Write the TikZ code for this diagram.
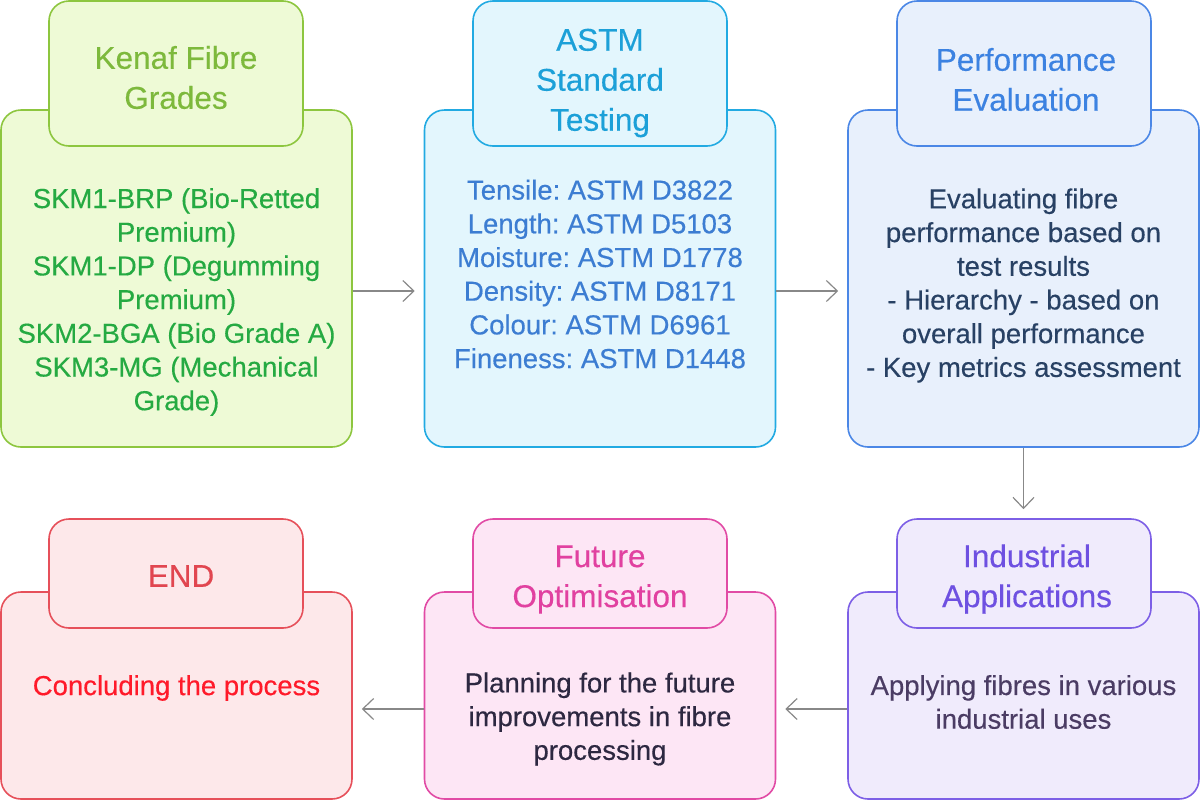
\documentclass[tikz,border=0pt]{standalone}
\usepackage{fontspec}
\setmainfont{Liberation Sans}[FakeBold=0.35]
\usetikzlibrary{arrows.meta}
\definecolor{gBorder}{HTML}{8DC63F}\definecolor{gFill}{HTML}{EEFAD6}\definecolor{gHead}{HTML}{7DB93C}\definecolor{gText}{HTML}{25AA42}
\definecolor{cBorder}{HTML}{22AAE2}\definecolor{cFill}{HTML}{E3F6FD}\definecolor{cHead}{HTML}{1CA0D8}\definecolor{cText}{HTML}{3C7DD2}
\definecolor{bBorder}{HTML}{4B87E6}\definecolor{bFill}{HTML}{E8F0FC}\definecolor{bHead}{HTML}{3C82E1}\definecolor{bText}{HTML}{284164}
\definecolor{vBorder}{HTML}{7D5FE6}\definecolor{vFill}{HTML}{F0EBFC}\definecolor{vHead}{HTML}{6E50E1}\definecolor{vText}{HTML}{4B3C64}
\definecolor{pBorder}{HTML}{E14BA5}\definecolor{pFill}{HTML}{FDE6F5}\definecolor{pHead}{HTML}{E141A0}\definecolor{pText}{HTML}{2D2841}
\definecolor{rBorder}{HTML}{E6505A}\definecolor{rFill}{HTML}{FDE8EA}\definecolor{rHead}{HTML}{E14650}\definecolor{rText}{HTML}{FF1A2A}
\definecolor{arrowgray}{HTML}{888888}
\frenchspacing
\tikzset{
  bigbox/.style={draw, rounded corners=20pt, line width=1.6pt, minimum width=351pt, inner sep=0pt},
  headbox/.style={draw, rounded corners=20pt, line width=1.6pt, minimum width=254pt, inner sep=0pt},
  bodytxt/.style={align=center, inner sep=0pt, font=\fontsize{27.5}{33.7}\selectfont\frenchspacing},
  headtxt/.style={align=center, inner sep=0pt, font=\fontsize{31.5}{40}\selectfont},
  arr/.style={draw=arrowgray, line width=1.2pt, -{Straight Barb[length=11pt,width=21pt]}, shorten >=9pt}
}
\begin{document}
\begin{tikzpicture}[x=1pt,y=-1pt]
\useasboundingbox (0,0) rectangle (1200,801);
% top row
\node[bigbox, draw=gBorder, fill=gFill, minimum height=337pt] (g) at (176.5,278.5) {};
\node[headbox, draw=gBorder, fill=gFill, minimum height=145pt] (gh) at (176,73.5) {};
\node[headtxt, text=gHead] (ght) at (176,77.5) {Kenaf Fibre\\Grades};
\node[bodytxt, text=gText] (gt) at (176.5,302) {SKM1-BRP (Bio-Retted\\Premium)\\SKM1-DP (Degumming\\Premium)\\SKM2-BGA (Bio Grade A)\\SKM3-MG (Mechanical\\Grade)};

\node[bigbox, draw=cBorder, fill=cFill, minimum height=337pt] (c) at (600,278.5) {};
\node[headbox, draw=cBorder, fill=cFill, minimum height=145pt] (ch) at (600,73.5) {};
\node[headtxt, text=cHead] (cht) at (600,83) {ASTM\\Standard\\Testing};
\node[bodytxt, text=cText] (ct) at (600,274) {Tensile: ASTM D3822\\Length: ASTM D5103\\Moisture: ASTM D1778\\Density: ASTM D8171\\Colour: ASTM D6961\\Fineness: ASTM D1448};

\node[bigbox, draw=bBorder, fill=bFill, minimum height=337pt] (p) at (1023.5,278.5) {};
\node[headbox, draw=bBorder, fill=bFill, minimum height=145pt] (ph) at (1024,73.5) {};
\node[headtxt, text=bHead] (pht) at (1026,79.5) {Performance\\Evaluation};
\node[bodytxt, text=bText] (pt) at (1023.5,285.5) {Evaluating fibre\\performance based on\\test results\\- Hierarchy - based on\\overall performance\\- Key metrics assessment};

% bottom row
\node[bigbox, draw=vBorder, fill=vFill, minimum height=207pt] (i) at (1023.5,695.5) {};
\node[headbox, draw=vBorder, fill=vFill, minimum height=109pt] (ih) at (1024,573.5) {};
\node[headtxt, text=vHead] (iht) at (1027,579) {Industrial\\Applications};
\node[bodytxt, text=vText] (it) at (1023.5,702) {Applying fibres in various\\industrial uses};

\node[bigbox, draw=pBorder, fill=pFill, minimum height=207pt] (f) at (600,695.5) {};
\node[headbox, draw=pBorder, fill=pFill, minimum height=109pt] (fh) at (600,573.5) {};
\node[headtxt, text=pHead] (fht) at (600,579.5) {Future\\Optimisation};
\node[bodytxt, text=pText] (ft) at (600,719) {Planning for the future\\improvements in fibre\\processing};

\node[bigbox, draw=rBorder, fill=rFill, minimum height=207pt] (e) at (176.5,695.5) {};
\node[headbox, draw=rBorder, fill=rFill, minimum height=109pt] (eh) at (176,573.5) {};
\node[headtxt, text=rHead] (eht) at (181,576) {END};
\node[bodytxt, text=rText] (et) at (176.5,688) {Concluding the process};

% connectors
\draw[arr] ([yshift=-12.5pt]g.east) -- ([yshift=-12.5pt]c.west);
\draw[arr] ([yshift=-12.5pt]c.east) -- ([yshift=-12.5pt]p.west);
\draw[arr] (p.south) -- (p.south |- ih.north);
\draw[arr] ([yshift=-13.5pt]i.west) -- ([yshift=-13.5pt]f.east);
\draw[arr] ([yshift=-13.5pt]f.west) -- ([yshift=-13.5pt]e.east);
\end{tikzpicture}
\end{document}
